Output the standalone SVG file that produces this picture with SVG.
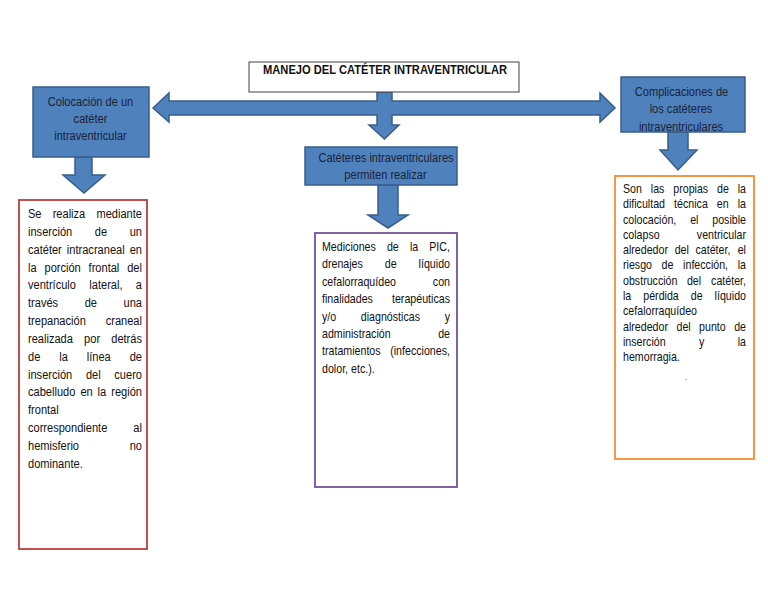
<svg xmlns="http://www.w3.org/2000/svg" width="768" height="594" viewBox="0 0 768 594">
<style>
.t{font-family:"Liberation Sans",Arial,sans-serif;font-size:13px;fill:#111}
.r{font-size:13.5px}
.bt{font-family:"Liberation Sans",Arial,sans-serif;font-size:13.5px;fill:#1b2236;text-anchor:middle}
.e{text-anchor:end}
.blue{fill:#4f81bd;stroke:#385d8a;stroke-width:1.5}
.red{fill:#fff;stroke:#c0504d;stroke-width:2}
.pur{fill:#fff;stroke:#8064a2;stroke-width:2}
.org{fill:#fff;stroke:#f79646;stroke-width:2}
</style>
<defs>
<clipPath id="clipR"><rect x="621" y="77" width="124" height="55"/></clipPath>
</defs>
<rect width="768" height="594" fill="#fff"/>

<g id="connectors">
<polygon class="blue" points="153,108 169,93 169,101 377,101 377,92 392,92 392,101 600,101 600,93 615,108 600,122 600,115 392,115 392,125 399,125 384.5,139 369,125 377,125 377,115 169,115 169,122"/>
<polygon class="blue" points="75,157 92,157 92,175 105,175 84,193 63,175 75,175"/>
<polygon class="blue" points="378,185 398,185 398,215 408,215 388,228 368,215 378,215"/>
<polygon class="blue" points="668,132 688,132 688,150 697,150 678,170 660,150 668,150"/>
</g>

<g id="title">
<rect x="249" y="62" width="270" height="30" fill="#fff" stroke="#404040" stroke-width="1"/>
<text x="385" y="73.5" class="t" text-anchor="middle" style="font-weight:bold;font-size:12px" textLength="244" lengthAdjust="spacingAndGlyphs">MANEJO DEL CATÉTER INTRAVENTRICULAR</text>
</g>

<g id="node-colocacion">
<rect class="blue" x="33" y="87" width="116" height="70"/>
<text class="bt" transform="translate(90.5 0) scale(0.82 1)" x="0" y="106">Colocación de un</text>
<text class="bt" transform="translate(90.5 0) scale(0.82 1)" x="0" y="123.5">catéter</text>
<text class="bt" transform="translate(90.5 0) scale(0.82 1)" x="0" y="140">intraventricular</text>
</g>

<g id="node-permiten">
<rect class="blue" x="305" y="147" width="152" height="38"/>
<text class="bt" transform="translate(386 0) scale(0.82 1)" x="0" y="162.5">Catéteres intraventriculares</text>
<text class="bt" transform="translate(385.5 0) scale(0.82 1)" x="0" y="179.5">permiten realizar</text>
</g>

<g id="node-complicaciones">
<rect class="blue" x="621" y="77" width="124" height="55"/>
<g clip-path="url(#clipR)">
<text class="bt" transform="translate(681.5 0) scale(0.82 1)" x="0" y="96">Complicaciones de</text>
<text class="bt" transform="translate(681 0) scale(0.82 1)" x="0" y="113.5">los catéteres</text>
<text class="bt" transform="translate(681 0) scale(0.82 1)" x="0" y="131">intraventriculares</text>
</g>
</g>

<g id="node-descripcion">
<rect class="red" x="19" y="200" width="128" height="349"/>
<g transform="translate(28 0) scale(0.82 1)">
<text class="t r" x="0" y="218">Se</text><text class="t r" x="30.1" y="218">realiza</text><text class="t r e" x="139" y="218">mediante</text>
<text class="t r" x="0" y="236">inserción</text><text class="t r" x="81.5" y="236">de</text><text class="t r e" x="139" y="236">un</text>
<text class="t r" x="0" y="254">catéter</text><text class="t r" x="47.4" y="254">intracraneal</text><text class="t r e" x="139" y="254">en</text>
<text class="t r" x="0" y="272">la</text><text class="t r" x="20.1" y="272">porción</text><text class="t r" x="73.9" y="272">frontal</text><text class="t r e" x="139" y="272">del</text>
<text class="t r" x="0" y="289.5">ventrículo</text><text class="t r" x="74.8" y="289.5">lateral,</text><text class="t r e" x="139" y="289.5">a</text>
<text class="t r" x="0" y="307">través</text><text class="t r" x="69.1" y="307">de</text><text class="t r e" x="139" y="307">una</text>
<text class="t r" x="0" y="325">trepanación</text><text class="t r e" x="139" y="325">craneal</text>
<text class="t r" x="0" y="343">realizada</text><text class="t r" x="68.4" y="343">por</text><text class="t r e" x="139" y="343">detrás</text>
<text class="t r" x="0" y="361">de</text><text class="t r" x="38.1" y="361">la</text><text class="t r" x="71.7" y="361">línea</text><text class="t r e" x="139" y="361">de</text>
<text class="t r" x="0" y="379">inserción</text><text class="t r" x="70.6" y="379">del</text><text class="t r e" x="139" y="379">cuero</text>
<text class="t r" x="0" y="396.5">cabelludo</text><text class="t r" x="63.9" y="396.5">en</text><text class="t r" x="84.9" y="396.5">la</text><text class="t r e" x="139" y="396.5">región</text>
<text class="t r" x="0" y="414">frontal</text>
<text class="t r" x="0" y="432">correspondiente</text><text class="t r e" x="139" y="432">al</text>
<text class="t r" x="0" y="450">hemisferio</text><text class="t r e" x="139" y="450">no</text>
<text class="t r" x="0" y="468">dominante.</text>
</g>
</g>

<g id="node-mediciones">
<rect class="pur" x="315" y="233" width="142" height="254"/>
<g transform="translate(322 0) scale(0.82 1)">
<text class="t" x="0" y="251">Mediciones</text><text class="t" x="79.2" y="251">de</text><text class="t" x="107.2" y="251">la</text><text class="t e" x="156.1" y="251">PIC,</text>
<text class="t" x="0" y="268.5">drenajes</text><text class="t" x="76.6" y="268.5">de</text><text class="t e" x="156.1" y="268.5">líquido</text>
<text class="t" x="0" y="286">cefalorraquídeo</text><text class="t e" x="156.1" y="286">con</text>
<text class="t" x="0" y="303">finalidades</text><text class="t e" x="156.1" y="303">terapéuticas</text>
<text class="t" x="0" y="321">y/o</text><text class="t" x="47.3" y="321">diagnósticas</text><text class="t e" x="156.1" y="321">y</text>
<text class="t" x="0" y="338">administración</text><text class="t e" x="156.1" y="338">de</text>
<text class="t" x="0" y="355">tratamientos</text><text class="t e" x="156.1" y="355">(infecciones,</text>
<text class="t" x="0" y="373">dolor, etc.).</text>
</g>
</g>

<g id="node-propias">
<rect class="org" x="615" y="176" width="139" height="283"/>
<g transform="translate(623 0) scale(0.82 1)">
<text class="t" x="0" y="193">Son</text><text class="t" x="33.9" y="193">las</text><text class="t" x="61.3" y="193">propias</text><text class="t" x="114.7" y="193">de</text><text class="t e" x="150" y="193">la</text>
<text class="t" x="0" y="208.5">dificultad</text><text class="t" x="62.3" y="208.5">técnica</text><text class="t" x="114.4" y="208.5">en</text><text class="t e" x="150" y="208.5">la</text>
<text class="t" x="0" y="224">colocación,</text><text class="t" x="81.9" y="224">el</text><text class="t e" x="150" y="224">posible</text>
<text class="t" x="0" y="239">colapso</text><text class="t e" x="150" y="239">ventricular</text>
<text class="t" x="0" y="254.5">alrededor</text><text class="t" x="63" y="254.5">del</text><text class="t" x="88.4" y="254.5">catéter,</text><text class="t e" x="150" y="254.5">el</text>
<text class="t" x="0" y="269.5">riesgo</text><text class="t" x="47.1" y="269.5">de</text><text class="t" x="73.3" y="269.5">infección,</text><text class="t e" x="150" y="269.5">la</text>
<text class="t" x="0" y="285">obstrucción</text><text class="t" x="77.9" y="285">del</text><text class="t e" x="150" y="285">catéter,</text>
<text class="t" x="0" y="300">la</text><text class="t" x="24.7" y="300">pérdida</text><text class="t" x="82.7" y="300">de</text><text class="t e" x="150" y="300">líquido</text>
<text class="t" x="0" y="315.5">cefalorraquídeo</text>
<text class="t" x="0" y="331">alrededor</text><text class="t" x="65.2" y="331">del</text><text class="t" x="92.8" y="331">punto</text><text class="t e" x="150" y="331">de</text>
<text class="t" x="0" y="346">inserción</text><text class="t" x="92.7" y="346">y</text><text class="t e" x="150" y="346">la</text>
<text class="t" x="0" y="361.5">hemorragia.</text>
<text class="t" x="75.6" y="380" style="font-size:9px">.</text>
</g>
</g>
</svg>
